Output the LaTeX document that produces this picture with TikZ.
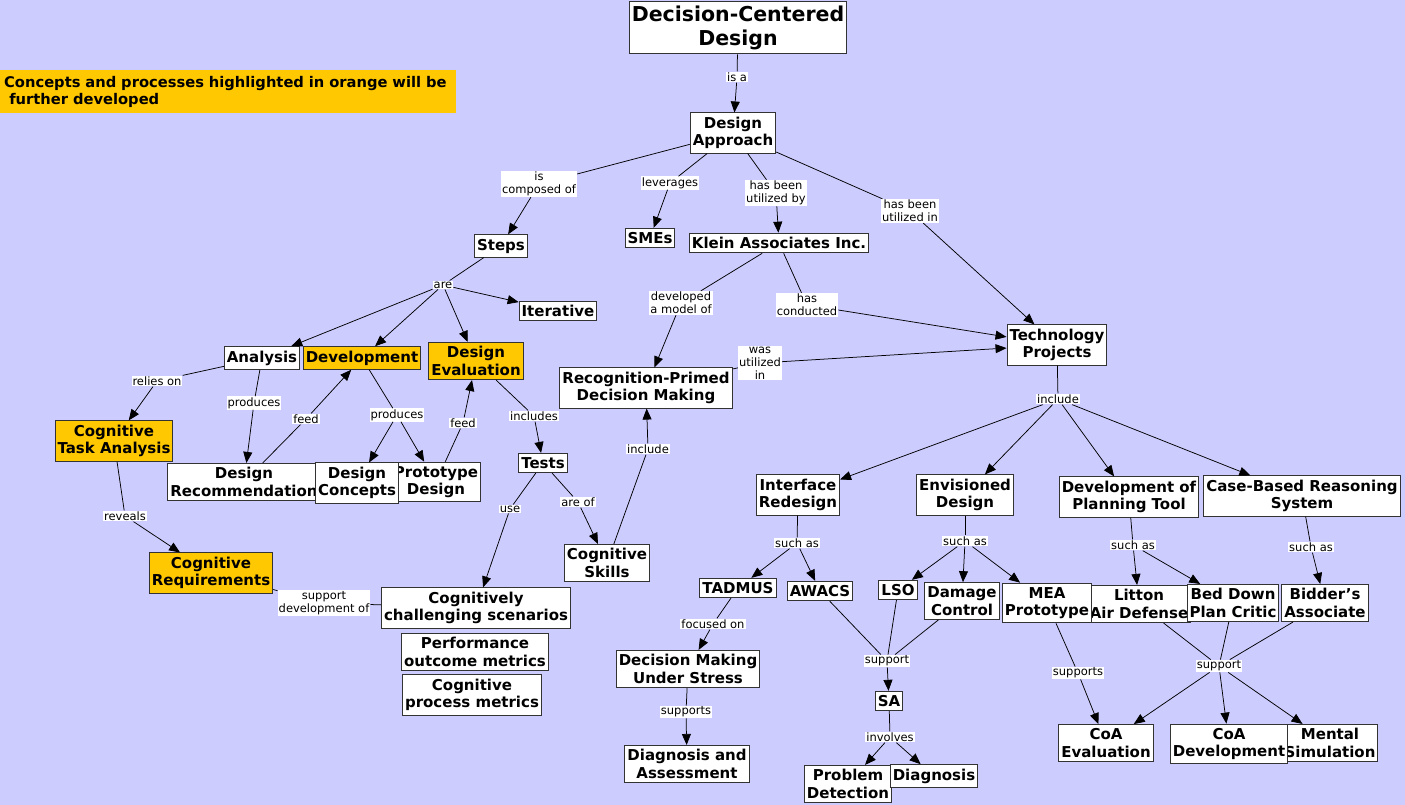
\documentclass[tikz,border=0pt]{standalone}
\usepackage{fontspec}
\setmainfont{DejaVu Sans}
\usetikzlibrary{arrows.meta}
\definecolor{mapbg}{RGB}{204,204,255}
\definecolor{todo}{RGB}{255,200,0}
\begin{document}
\begin{tikzpicture}[x=1pt, y=-1pt,
	concept/.style={draw=black!80, line width=1pt, fill=white, align=center, inner xsep=2.5pt, inner ysep=4pt, font=\bfseries\fontsize{15}{17.5}\selectfont},
	hot/.style={concept, fill=todo},
	link/.style={fill=white, inner sep=1pt, align=center, font=\fontsize{11.5}{13}\selectfont},
	tie/.style={draw=black, line width=0.75pt},
	arr/.style={tie, -{Triangle[length=11pt, width=9pt]}}]
		\fill[mapbg] (0,0) rectangle (1405,805);
		\useasboundingbox (0,0) rectangle (1405,805);
		\node[fill=todo, anchor=north west, text width=448pt, align=left, inner xsep=4pt, minimum height=43pt, font=\bfseries\fontsize{14.7}{17}\selectfont] (note) at (0,70) {Concepts and processes highlighted in orange will be\\\hspace{0.35em}further developed};
		\node[concept, inner ysep=4pt, font=\bfseries\fontsize{20.5}{24}\selectfont] (dcd) at (738,28) {Decision-Centered\\Design};
		\node[concept] (approach) at (733,133) {Design\\Approach};
		\node[concept] (steps) at (501,246) {Steps};
		\node[concept] (smes) at (650,238) {SMEs};
		\node[concept] (klein) at (779,243) {Klein Associates Inc.};
		\node[concept] (iterative) at (558,311) {Iterative};
		\node[concept] (analysis) at (262,358) {Analysis};
		\node[hot] (development) at (362,358) {Development};
		\node[hot] (evaluation) at (476,361) {Design\\Evaluation};
		\node[concept] (rpd) at (646,388) {Recognition-Primed\\Decision Making};
		\node[concept] (techproj) at (1057,345) {Technology\\Projects};
		\node[hot] (cta) at (114,441) {Cognitive\\Task Analysis};
		\node[concept] (recommend) at (244,482) {Design\\Recommendation};
		\node[concept] (prototype) at (436,482) {Prototype\\Design};
		\node[concept] (concepts) at (357,483) {Design\\Concepts};
		\node[concept] (tests) at (543,463) {Tests};
		\node[hot] (requirements) at (211,573) {Cognitive\\Requirements};
		\node[concept] (skills) at (607,563) {Cognitive\\Skills};
		\node[concept] (scenarios) at (476,608) {Cognitively\\challenging scenarios};
		\node[concept] (outcome) at (475,652) {Performance\\outcome metrics};
		\node[concept] (process) at (472,695) {Cognitive\\process metrics};
		\node[concept] (interface) at (798,495) {Interface\\Redesign};
		\node[concept] (envisioned) at (965,495) {Envisioned\\Design};
		\node[concept] (planning) at (1129,497) {Development of\\Planning Tool};
		\node[concept] (cbr) at (1302,496) {Case-Based Reasoning\\System};
		\node[concept] (tadmus) at (738,588) {TADMUS};
		\node[concept] (awacs) at (820,591) {AWACS};
		\node[concept] (lso) at (898,590) {LSO};
		\node[concept] (damage) at (962,601) {Damage\\Control};
		\node[concept] (litton) at (1139,604) {Litton\\Air Defense};
		\node[concept] (mea) at (1047,603) {MEA\\Prototype};
		\node[concept] (beddown) at (1233,603) {Bed Down\\Plan Critic};
		\node[concept] (bidder) at (1325,603) {Bidder's\\Associate};
		\node[concept] (sa) at (889,701) {SA};
		\node[concept] (problem) at (848,784) {Problem\\Detection};
		\node[concept] (diagnosis) at (934,776) {Diagnosis};
		\node[concept] (coaeval) at (1106,743) {CoA\\Evaluation};
		\node[concept] (mental) at (1330,743) {Mental\\Simulation};
		\node[concept] (coadev) at (1229,744) {CoA\\Development};
		\node[concept] (dmus) at (688,669) {Decision Making\\Under Stress};
		\node[concept] (assess) at (687,764) {Diagnosis and\\Assessment};

		\node[link] (isa) at (737,77) {is a};
		\node[link] (composed) at (539,184) {is\\composed of};
		\node[link] (leverages) at (670,183) {leverages};
		\node[link] (utilby) at (776,193) {has been\\utilized by};
		\node[link] (utilin) at (910,211) {has been\\utilized in};
		\node[link] (are) at (443,285) {are};
		\node[link] (modelof) at (681,303) {developed\\a model of};
		\node[link] (conducted) at (807,305) {has\\conducted};
		\node[link] (wasused) at (760,363) {was\\utilized\\in};
		\node[link] (relies) at (157,381) {relies on};
		\node[link] (produces1) at (254,403) {produces};
		\node[link] (feed1) at (306,419) {feed};
		\node[link] (produces2) at (397,415) {produces};
		\node[link] (feed2) at (463,423) {feed};
		\node[link] (includes) at (534,416) {includes};
		\node[link] (include1) at (648,449) {include};
		\node[link] (include2) at (1058,399) {include};
		\node[link] (reveals) at (125,516) {reveals};
		\node[link] (use) at (510,509) {use};
		\node[link] (areof) at (578,502) {are of};
		\node[link] (supportdev) at (324,603) {support\\development of};
		\node[link] (suchas1) at (797,543) {such as};
		\node[link] (suchas2) at (965,541) {such as};
		\node[link] (suchas3) at (1133,545) {such as};
		\node[link] (suchas4) at (1311,547) {such as};
		\node[link] (focused) at (713,624) {focused on};
		\node[link] (supports1) at (686,712) {supports};
		\node[link] (support1) at (887,661) {support};
		\node[link] (involves) at (890,737) {involves};
		\node[link] (supports2) at (1078,673) {supports};
		\node[link] (support2) at (1219,666) {support};

		\draw[tie] (dcd) -- (isa);
		\draw[arr] (isa) -- (approach);
		\draw[tie] (approach) -- (composed);
		\draw[arr] (composed) -- (steps);
		\draw[tie] (approach) -- (leverages);
		\draw[arr] (leverages) -- (smes);
		\draw[tie] (approach) -- (utilby);
		\draw[arr] (utilby) -- (klein);
		\draw[tie] (approach) -- (utilin);
		\draw[arr] (utilin) -- (techproj);
		\draw[tie] (steps) -- (are);
		\foreach \t in {analysis, development, evaluation, iterative}
			\draw[arr] (are) -- (\t);
		\draw[tie] (klein) -- (modelof);
		\draw[arr] (modelof) -- (rpd);
		\draw[tie] (klein) -- (conducted);
		\draw[arr] (conducted) -- (techproj);
		\draw[tie] (rpd) -- (wasused);
		\draw[arr] (wasused) -- (techproj);
		\draw[tie] (analysis) -- (relies);
		\draw[arr] (relies) -- (cta);
		\draw[tie] (analysis) -- (produces1);
		\draw[arr] (produces1) -- (recommend);
		\draw[tie] (recommend) -- (feed1);
		\draw[arr] (feed1) -- (development);
		\draw[tie] (development) -- (produces2);
		\draw[arr] (produces2) -- (concepts);
		\draw[arr] (produces2) -- (prototype);
		\draw[tie] (prototype) -- (feed2);
		\draw[arr] (feed2) -- (evaluation);
		\draw[tie] (evaluation) -- (includes);
		\draw[arr] (includes) -- (tests);
		\draw[tie] (skills) -- (include1);
		\draw[arr] (include1) -- (rpd);
		\draw[tie] (cta) -- (reveals);
		\draw[arr] (reveals) -- (requirements);
		\draw[tie] (tests) -- (use);
		\draw[arr] (use) -- (scenarios);
		\draw[tie] (tests) -- (areof);
		\draw[arr] (areof) -- (skills);
		\draw[tie] (requirements) -- (supportdev);
		\draw[tie] (supportdev) -- (scenarios);
		\draw[tie] (techproj) -- (include2);
		\foreach \t in {interface, envisioned, planning, cbr}
			\draw[arr] (include2) -- (\t);
		\draw[tie] (interface) -- (suchas1);
		\draw[arr] (suchas1) -- (tadmus);
		\draw[arr] (suchas1) -- (awacs);
		\draw[tie] (envisioned) -- (suchas2);
		\foreach \t in {lso, damage, mea}
			\draw[arr] (suchas2) -- (\t);
		\draw[tie] (planning) -- (suchas3);
		\draw[arr] (suchas3) -- (litton);
		\draw[arr] (suchas3) -- (beddown);
		\draw[tie] (cbr) -- (suchas4);
		\draw[arr] (suchas4) -- (bidder);
		\draw[tie] (tadmus) -- (focused);
		\draw[arr] (focused) -- (dmus);
		\draw[tie] (dmus) -- (supports1);
		\draw[arr] (supports1) -- (assess);
		\foreach \s in {awacs, lso, damage}
			\draw[tie] (\s) -- (support1);
		\draw[arr] (support1) -- (sa);
		\draw[tie] (sa) -- (involves);
		\draw[arr] (involves) -- (problem);
		\draw[arr] (involves) -- (diagnosis);
		\draw[tie] (mea) -- (supports2);
		\draw[arr] (supports2) -- (coaeval);
		\foreach \s in {litton, beddown, bidder}
			\draw[tie] (\s) -- (support2);
		\foreach \t in {coaeval, coadev, mental}
			\draw[arr] (support2) -- (\t);
	\end{tikzpicture}
\end{document}
